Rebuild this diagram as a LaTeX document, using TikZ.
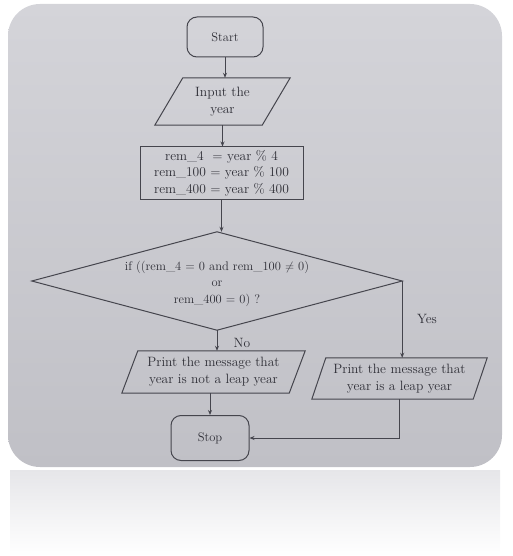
\documentclass[tikz,border=0pt]{standalone}
\usetikzlibrary{arrows.meta,calc}
\definecolor{bgtop}{HTML}{D4D4D9}
\definecolor{bgbot}{HTML}{C0C0C6}
\definecolor{linec}{HTML}{45454D}
\definecolor{textc}{HTML}{2E2E36}
\definecolor{reflc}{HTML}{E6E6E9}
\begin{document}
\begin{tikzpicture}[x=1pt,y=-1pt,
  lnk/.style={draw=linec, line width=1pt},
  arr/.style={lnk, -{Stealth[length=5pt,width=4pt]}},
  term/.style={draw=linec, line width=1pt, rounded corners=10pt, text=textc,
    font=\fontsize{12.5}{16}\selectfont, inner sep=0pt},
  holder/.style={text=textc, align=center, inner sep=0pt,
    font=\fontsize{13.5}{17}\selectfont},
  procbox/.style={draw=linec, line width=1pt, text=textc, align=center, inner sep=0pt,
    font=\fontsize{13.5}{16.5}\selectfont},
  lbl/.style={text=textc, inner sep=0pt, font=\fontsize{13.5}{16}\selectfont}]
\useasboundingbox (0,0) rectangle (512,556);
% photo background and its faint reflection
\shade[top color=reflc, bottom color=white] (10,470) rectangle (500,556);
\shade[top color=bgtop, bottom color=bgbot, rounded corners=32pt] (8,4) rectangle (502,467);

% nodes
\node[term, minimum width=76pt, minimum height=40pt] (start) at (225,37) {Start};
\node[holder, minimum width=135pt, minimum height=47pt] (inp) at (222.5,101.5) {Input the\\year};
\draw[lnk] ($(inp.north west)+(28,0)$) -- (inp.north east) -- ($(inp.south east)+(-28,0)$) -- (inp.south west) -- cycle;
\node[procbox, minimum width=163pt, minimum height=52pt] (proc) at (221.5,173)
  {rem\_4 \ = year \% 4\\rem\_100 = year \% 100\\rem\_400 = year \% 400};
\node[holder, font=\fontsize{12.5}{16.5}\selectfont, minimum width=370pt, minimum height=98pt] (dec) at (217,283.5)
  {if ((rem\_4 = 0 and rem\_100 $\neq$ 0)\\or\\rem\_400 = 0) ?};
\coordinate (dN) at ($(dec.north)+(0,-2.5)$);
\coordinate (dE) at ($(dec.east)+(0,-2.5)$);
\coordinate (dS) at ($(dec.south)+(0,-2.5)$);
\coordinate (dW) at ($(dec.west)+(0,-2.5)$);
\draw[lnk] (dN) -- (dE) -- (dS) -- (dW) -- cycle;
\node[holder, minimum width=183pt, minimum height=42pt] (lp) at (213.5,372)
  {Print the message that\\year is not a leap year};
\draw[lnk] ($(lp.north west)+(16,0)$) -- (lp.north east) -- ($(lp.south east)+(-16,0)$) -- (lp.south west) -- cycle;
\node[holder, minimum width=175pt, minimum height=41pt] (rp) at (399.5,378.5)
  {Print the message that\\year is a leap year};
\draw[lnk] ($(rp.north west)+(14,0)$) -- (rp.north east) -- ($(rp.south east)+(-14,0)$) -- (rp.south west) -- cycle;
\node[term, minimum width=78pt, minimum height=45pt] (stop) at (210,438) {Stop};

% connectors
\draw[arr] (start.south) -- (start.south |- inp.north);
\draw[arr] (inp.south) -- (inp.south |- proc.north);
\draw[arr] (proc.south) -- (proc.south |- dN);
\draw[arr] (dS) -- (dS |- lp.north);
\draw[arr] (dE) -- (dE |- rp.north);
\draw[arr] (stop.north |- lp.south) -- (stop.north);
\draw[arr] (rp.south) |- (stop.east);

% labels
\node[lbl] (no) at (242,343) {No};
\node[lbl] (yes) at (427,319) {Yes};
\end{tikzpicture}
\end{document}
